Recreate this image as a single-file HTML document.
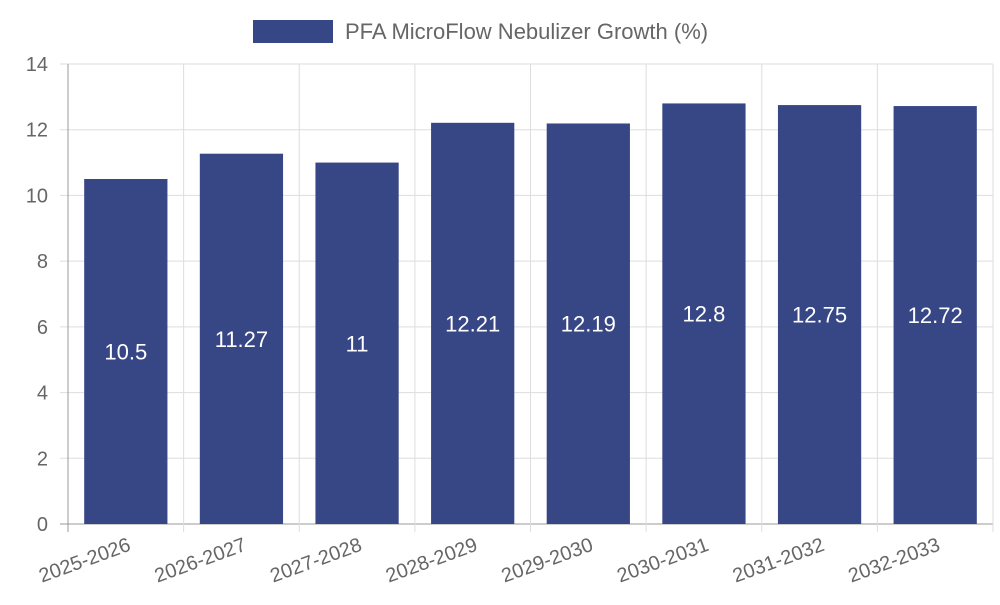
<!DOCTYPE html>
<html><head><meta charset="utf-8"><style>
body{margin:0;background:#fff;font-family:"Liberation Sans",sans-serif}
</style></head><body>
<svg id="c" width="1000" height="600" xmlns="http://www.w3.org/2000/svg" font-family="Liberation Sans, sans-serif"></svg>
<script>
const categories=["2025-2026","2026-2027","2027-2028","2028-2029","2029-2030","2030-2031","2031-2032","2032-2033"];
const values=[10.5,11.27,11,12.21,12.19,12.8,12.75,12.72];
const valueLabels=["10.5","11.27","11","12.21","12.19","12.8","12.75","12.72"];
const yTicks=[0,2,4,6,8,10,12,14];
const svg=document.getElementById('c');
const NS='http://www.w3.org/2000/svg';
const L=68,R=993,T=64,B=524,yMax=14;
const bw=(R-L)/categories.length;
const y=v=>B-(v/yMax)*(B-T);
const x=i=>L+i*bw;
function mk(t,a,p){const e=document.createElementNS(NS,t);for(const k in a)e.setAttribute(k,a[k]);(p||svg).appendChild(e);return e;}
// legend
let g=mk('g',{});


mk('rect',{x:253,y:20,width:80,height:23,fill:'#374785'},g);
let lt=mk('text',{x:345,y:39,'font-size':22,fill:'#666'},g);lt.textContent='PFA MicroFlow Nebulizer Growth (%)';
// grid
yTicks.forEach(v=>{
 const l=mk('line',{x1:60,x2:R,y1:y(v),y2:y(v),stroke:v===0?'#999':'#ddd','stroke-width':1});
 
 
 const t=mk('text',{x:48,y:y(v)+7,'font-size':20,fill:'#666','text-anchor':'end'});t.textContent=v;
 
 
});
for(let i=0;i<=categories.length;i++){
 const l=mk('line',{x1:x(i),x2:x(i),y1:T,y2:B+8,stroke:i===0?'#999':'#ddd','stroke-width':1});
 
 
}
categories.forEach((c,i)=>{
 const cx=x(i)+bw/2, w=bw*0.72;
 const r=mk('rect',{x:cx-w/2,y:y(values[i]),width:w,height:B-y(values[i]),fill:'#374785'});
 
 
 const vt=mk('text',{x:cx,y:(y(values[i])+B)/2+8,'font-size':22,fill:'#fff','text-anchor':'middle'});vt.textContent=valueLabels[i];
 
 
 const tt=mk('text',{x:cx+6,y:B+26,'font-size':20,fill:'#666','text-anchor':'end',transform:`rotate(-20 ${cx+6} ${B+26})`});tt.textContent=c;
 
 
});
</script>
</body></html>
